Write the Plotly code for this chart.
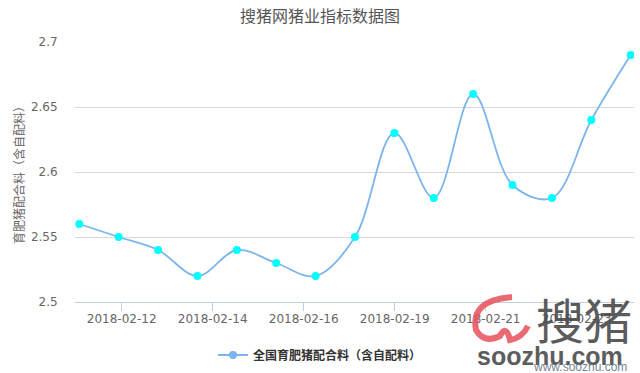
import plotly.graph_objects as go

# ---- data ----
values = [2.56, 2.55, 2.54, 2.52, 2.54, 2.53, 2.52, 2.55, 2.63, 2.58, 2.66, 2.59, 2.58, 2.64, 2.69]
tick_labels = ["2018-02-12", "2018-02-14", "2018-02-16", "2018-02-19", "2018-02-21", "2018-02-23"]
y_ticks = [2.5, 2.55, 2.6, 2.65, 2.7]

title_text = "搜猪网猪业指标数据图"
y_title = "育肥猪配合料（含自配料）"
series_name = "全国育肥猪配合料（含自配料）"

x_idx = list(range(len(values)))
tick_start, tick_step = 1.077, 2.31
tick_pos = [tick_start + i * tick_step for i in range(len(tick_labels))]

W, H = 640, 373
L, R, T, B = 75, 6, 42, 71
PW, PH = W - L - R, H - T - B


def px(x):
    return (x - L) / PW


def py(y):
    return (H - B - y) / PH


CJK = "Noto Sans CJK SC, Noto Sans, sans-serif"
NUM = "DejaVu Sans, Noto Sans CJK SC, sans-serif"

fig = go.Figure()
fig.add_trace(go.Scatter(
    x=x_idx, y=values, mode="lines+markers",
    line=dict(color="#7cb5ec", width=1.8, shape="spline", smoothing=1.0),
    marker=dict(color="#00ffff", size=8),
    showlegend=False, hoverinfo="y",
))
fig.add_trace(go.Scatter(
    x=[None], y=[None], mode="lines+markers", name=series_name,
    line=dict(color="#7cb5ec", width=2),
    marker=dict(color="#7cb5ec", size=8),
))

fig.update_layout(
    width=W, height=H,
    margin=dict(l=L, r=R, t=T, b=B),
    paper_bgcolor="white", plot_bgcolor="white",
    font=dict(family=CJK, size=12, color="#666666"),
    title=dict(text=title_text, x=0.5, xanchor="center", y=1 - 16 / H, yanchor="middle",
               font=dict(size=16, color="#555555", family=CJK)),
    xaxis=dict(
        range=[-0.109, 14.084], showgrid=False, zeroline=False,
        showline=True, linecolor="#C0D0E0", linewidth=1,
        tickmode="array", tickvals=tick_pos, ticktext=tick_labels,
        ticks="outside", ticklen=8, tickcolor="#C0D0E0",
        ticklabelstandoff=-2,
        tickfont=dict(size=12, color="#666666", family=NUM),
    ),
    yaxis=dict(
        range=[2.5, 2.7], tickmode="array", tickvals=y_ticks,
        ticktext=[f"{v:g}" for v in y_ticks],
        showgrid=True, gridcolor="#d8d8d8", gridwidth=1, zeroline=False,
        ticks="outside", ticklen=14, tickcolor="rgba(0,0,0,0)",
        tickfont=dict(size=12, color="#666666", family=NUM),
        title=dict(text=y_title, standoff=3, font=dict(size=12, color="#666666", family=CJK)),
    ),
    legend=dict(orientation="h", x=0.5, xanchor="center", xref="container",
                y=1 - 355 / H, yanchor="middle", yref="container",
                font=dict(size=12, color="#333333", weight="bold", family=CJK),
                itemwidth=30),
    hovermode="closest",
)

# ---- watermark logo ----
fig.add_annotation(text="搜猪", xref="paper", yref="paper", x=px(584), y=py(318),
                   showarrow=False, font=dict(size=48, color="#4a4a4a", family=CJK),
                   xanchor="center", yanchor="middle", opacity=0.9)
fig.add_annotation(text="<b>soozhu.com</b>", xref="paper", yref="paper", x=px(550), y=py(356),
                   showarrow=False, font=dict(size=25, color="#555555", family="Liberation Sans, Arial"),
                   xanchor="center", yanchor="middle", opacity=0.95)
fig.add_annotation(text="www.soozhu.com", xref="paper", yref="paper", x=px(580), y=py(367),
                   showarrow=False, font=dict(size=12, color="#66788a", family="Liberation Sans, Arial"),
                   xanchor="center", yanchor="middle", opacity=0.9)
logo_pts = [(512, 297), (470, 300), (476, 330), (484, 344), (500, 336), (506, 324),
            (510, 340), (522, 338), (528, 326)]
path = "M {:.4f},{:.4f} Q {:.4f},{:.4f} {:.4f},{:.4f} Q {:.4f},{:.4f} {:.4f},{:.4f} Q {:.4f},{:.4f} {:.4f},{:.4f} Q {:.4f},{:.4f} {:.4f},{:.4f}".format(
    *[c for p in logo_pts for c in (px(p[0]), py(p[1]))])
fig.add_shape(type="path", path=path, xref="paper", yref="paper",
              line=dict(color="#e8505b", width=6), opacity=0.85, layer="above")

fig.write_html("out.html")
